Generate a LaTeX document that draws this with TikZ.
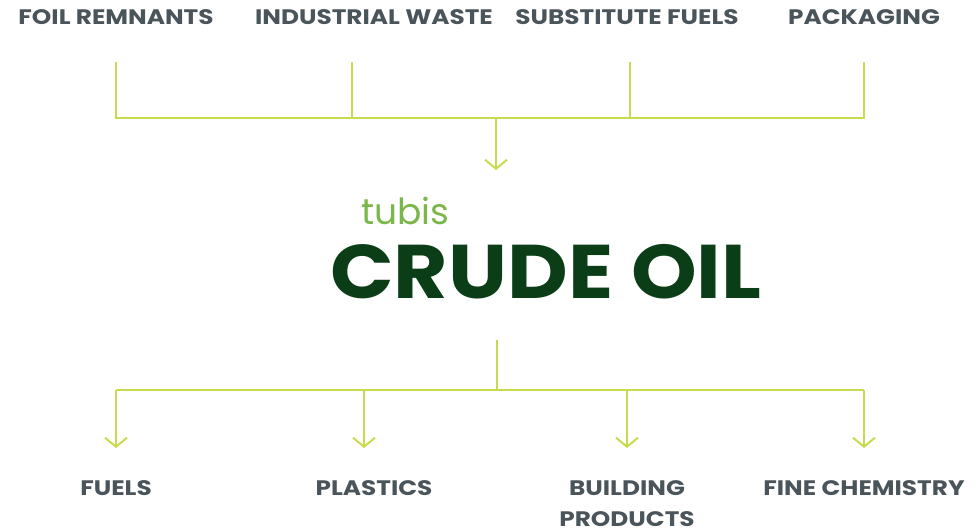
\documentclass[tikz,border=0pt]{standalone}
\usepackage{fontspec}
\setmainfont{Poppins}
\usetikzlibrary{arrows.meta}
\definecolor{linec}{HTML}{C8DA4E}
\definecolor{txt}{HTML}{4A555B}
\definecolor{dark}{HTML}{0B3D17}
\definecolor{logo}{HTML}{7AB648}
\begin{document}
\begin{tikzpicture}[x=1pt,y=-1pt,
  lbl/.style={text=txt,font=\bfseries\fontsize{21}{30}\selectfont,inner sep=0pt,align=center,xscale=1.18},
  ln/.style={draw=linec,line width=2pt},
  arr/.style={ln,-{Straight Barb[length=9pt,width=22pt,line width=2pt]}}]
\useasboundingbox (0,0) rectangle (980,529);
\node[lbl] (t1) at (116,17) {FOIL REMNANTS};
\node[lbl] (t2) at (374,17) {INDUSTRIAL WASTE};
\node[lbl] (t3) at (627,17) {SUBSTITUTE FUELS};
\node[lbl] (t4) at (864,17) {PACKAGING};
\coordinate (a1) at (116,62); \coordinate (a2) at (352,62);
\coordinate (a3) at (630,62); \coordinate (a4) at (864,62);
\coordinate (h1) at (116,118); \coordinate (h2) at (352,118);
\coordinate (h3) at (630,118); \coordinate (h4) at (864,118);
\coordinate (hm) at (496,118); \coordinate (am) at (496,170);
\draw[ln] (a1) -- (h1) -- (h4) -- (a4);
\draw[ln] (a2) -- (h2); \draw[ln] (a3) -- (h3);
\draw[arr] (hm) -- (am);
\node[text=logo,font=\fontsize{36}{36}\selectfont,inner sep=0pt,anchor=west] (logo) at (361,211) {tubis};
\node[text=dark,font=\bfseries\fontsize{76}{76}\selectfont,inner sep=0pt,anchor=west,xscale=1.1] (crude) at (330,272) {CRUDE OIL};
\coordinate (b0) at (497,340); \coordinate (bm) at (497,390);
\coordinate (g1) at (116,390); \coordinate (g2) at (364,390);
\coordinate (g3) at (627,390); \coordinate (g4) at (864,390);
\node[lbl] (o1) at (116,488) {FUELS};
\node[lbl] (o2) at (374,488) {PLASTICS};
\node[lbl] (o3) at (627,488) {BUILDING};
\node[lbl] (o3b) at (627,519) {PRODUCTS};
\node[lbl] (o4) at (864,488) {FINE CHEMISTRY};
\draw[ln] (b0) -- (bm); \draw[ln] (g1) -- (g4);
\foreach \g in {g1,g2,g3,g4} \draw[arr] (\g) -- ++(0,58);
\end{tikzpicture}
\end{document}
